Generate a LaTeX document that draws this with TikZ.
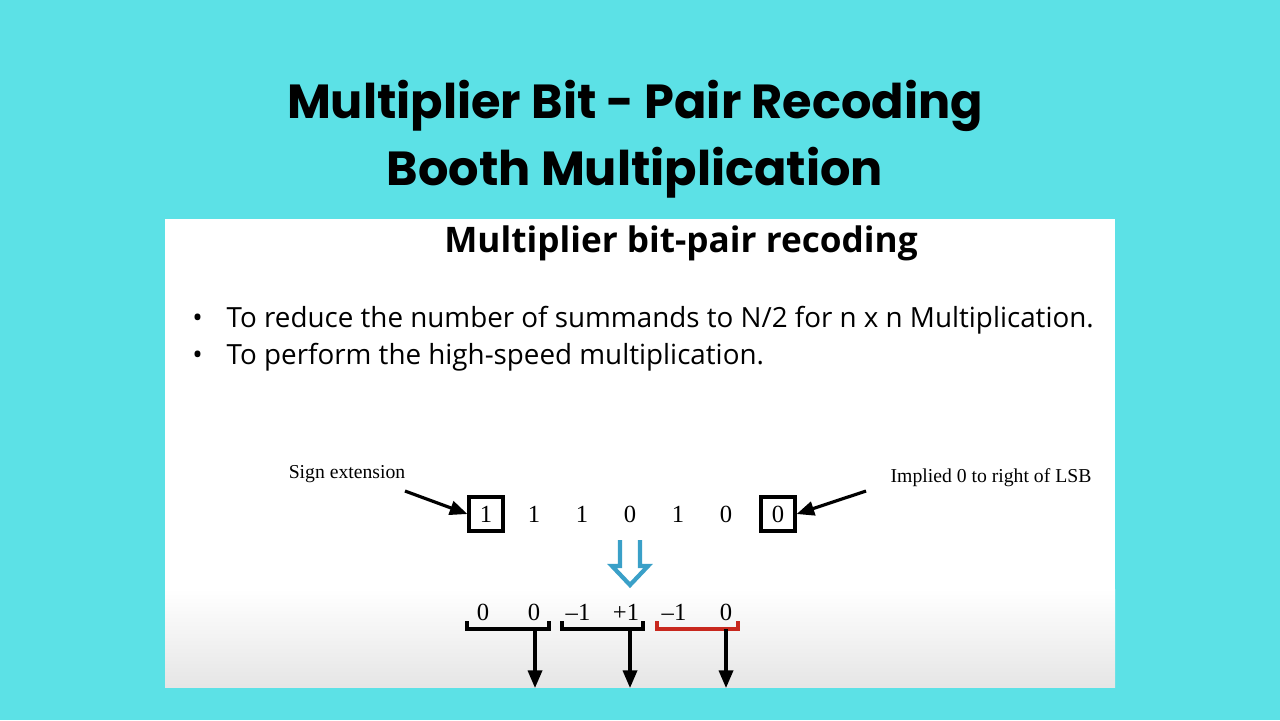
\documentclass[tikz,border=0pt]{standalone}
\usepackage{fontspec}
\setmainfont{Liberation Serif}
\newfontfamily\titlefont{Poppins}
\newfontfamily\slidefont{Open Sans}
\usetikzlibrary{arrows.meta}
\definecolor{bgc}{HTML}{5CE1E6}
\definecolor{hol}{HTML}{3AA0C8}
\definecolor{brr}{HTML}{C8281E}
\tikzset{bit/.style={font=\fontsize{7}{8}\selectfont,inner sep=1pt},
 bitbox/.style={bit,draw,line width=0.9pt,minimum width=0.34cm,minimum height=0.34cm},
 lbl/.style={font=\fontsize{5.6}{7}\selectfont},
 blk/.style={-{Triangle[length=5pt,width=4pt]},line width=0.9pt},
 brk/.style={line width=1.1pt}}
\begin{document}
\begin{tikzpicture}[x=0.01cm,y=-0.01cm]
\fill[bgc] (0,0) rectangle (1280,720);
\useasboundingbox (0,0) rectangle (1280,720);
\fill[white] (165,219) rectangle (1115,590);
\shade[top color=white,bottom color=black!10] (165,589) rectangle (1115,687);
\node[font=\titlefont\bfseries\fontsize{13.6}{15}\selectfont] (t1) at (635,106) {Multiplier Bit - Pair Recoding};
\node[font=\titlefont\bfseries\fontsize{13.6}{15}\selectfont] (t2) at (635,173) {Booth Multiplication};
\node[font=\slidefont\bfseries\fontsize{10}{12}\selectfont] (st) at (681,243) {Multiplier bit-pair recoding};
\node[font=\slidefont\fontsize{7.9}{9}\selectfont,anchor=west] (b1) at (180,320) {\textbullet\hspace{0.6em} To reduce the number of summands to N/2 for n x n Multiplication.};
\node[font=\slidefont\fontsize{7.9}{9}\selectfont,anchor=west] (b2) at (180,357) {\textbullet\hspace{0.6em} To perform the high-speed multiplication.};
\node[bitbox] (q1) at (486,514) {1};
\node[bit] (q2) at (534,514) {1};
\node[bit] (q3) at (582,514) {1};
\node[bit] (q4) at (630,514) {0};
\node[bit] (q5) at (678,514) {1};
\node[bit] (q6) at (726,514) {0};
\node[bitbox] (q7) at (778,514) {0};
\node[lbl] (se) at (347,474) {Sign extension};
\node[lbl] (im) at (991,478) {Implied 0 to right of LSB};
\coordinate (sea) at (405,491);
\coordinate (ima) at (866,491);
\draw[blk] (sea) -- (q1.west);
\draw[blk] (ima) -- (q7.east);
\draw[hol,line width=1.2pt,line join=miter] (620,540) -- (620,566) -- (612,566) -- (630,585) -- (648,566) -- (640,566) -- (640,540);
\node[bit] (r1) at (483,612) {0};
\node[bit] (r2) at (534,612) {0};
\node[bit] (r3) at (578,612) {\textendash1};
\node[bit] (r4) at (626,612) {+1};
\node[bit] (r5) at (674,612) {\textendash1};
\node[bit] (r6) at (726,612) {0};
\draw[brk] (467,621) -- (467,629) -- (549,629) -- (549,621);
\draw[brk] (562,621) -- (562,629) -- (643,629) -- (643,621);
\draw[brk,brr] (657,621) -- (657,629) -- (738,629) -- (738,621);
\coordinate (d1) at (535,629); \coordinate (e1) at (535,688);
\coordinate (d2) at (630,629); \coordinate (e2) at (630,688);
\coordinate (d3) at (726,629); \coordinate (e3) at (726,688);
\draw[blk] (d1) -- (e1);
\draw[blk] (d2) -- (e2);
\draw[blk] (d3) -- (e3);
\end{tikzpicture}
\end{document}
